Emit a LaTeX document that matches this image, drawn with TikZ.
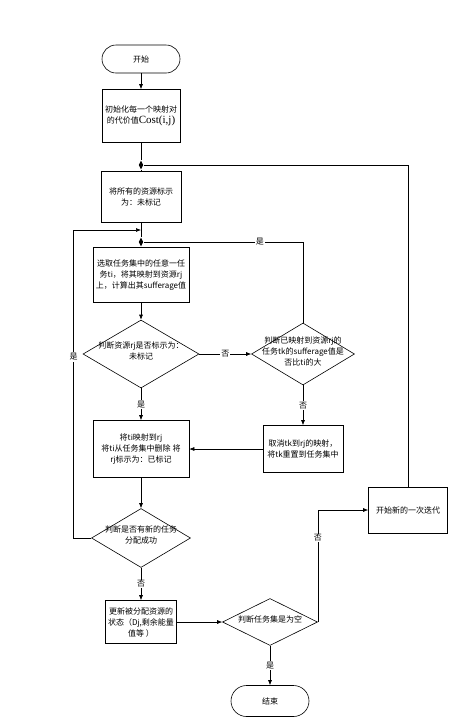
\documentclass[tikz,border=0pt]{standalone}
\usepackage{fontspec}
\setmainfont{Liberation Serif}
\newfontfamily\cjk{Noto Sans CJK SC}
\usetikzlibrary{shapes.geometric,arrows.meta}
\newcommand{\dtext}[1]{\smash{\makebox[0pt]{\begin{tabular}{@{}c@{}}#1\end{tabular}}}}

\begin{document}
\begin{tikzpicture}[x=1pt,y=-1pt,
    every node/.style={font=\cjk\fontsize{8}{11}\selectfont},
    term/.style={draw, rounded corners=14pt, minimum width=78pt, minimum height=28pt},
    proc/.style={draw, align=center, inner sep=2pt},
    decision/.style={draw, diamond, inner sep=0pt},
    junc/.style={diamond, fill, inner sep=0pt, minimum width=4.5pt, minimum height=9pt},
    lab/.style={fill=white, inner sep=1pt},
    arr/.style={-{Latex[length=5pt,width=4pt]}},
    line width=0.6pt]

    \useasboundingbox (0,0) rectangle (474,724);

    % left column
    \node[term] (start) at (141,59) {开始};
    \node[proc, minimum width=78pt, minimum height=53pt] (init) at (141,116)
        {初始化每一个映射对\\的代价值{\rmfamily\fontsize{11}{11}\selectfont Cost(i,j)}};
    \node[junc] (j1) at (141,165) {};
    \node[proc, minimum width=80pt, minimum height=51pt] (unmark) at (141,197)
        {将所有的资源标示\\为：未标记};
    \coordinate (inL) at (141,230);
    \node[junc] (j2) at (141,242) {};
    \node[proc, minimum width=96pt, minimum height=55pt] (pick) at (141,275)
        {选取任务集中的任意一任\\务ti，将其映射到资源rj\\上，计算出其sufferage值};
    \node[decision, minimum width=116pt, minimum height=68pt] (chkmark) at (141,354)
        {\dtext{判断资源rj是否标示为：\\未标记}};
    \node[proc, minimum width=96pt, minimum height=57pt] (assign) at (141,449)
        {将ti映射到rj\\将ti从任务集中删除 将\\rj标示为：已标记};
    \node[decision, minimum width=99pt, minimum height=59pt] (chknew) at (141,538)
        {\dtext{判断是否有新的任务\\分配成功}};
    \node[proc, minimum width=71pt, minimum height=43pt] (update) at (141,622)
        {更新被分配资源的\\状态（Dj,剩余能量\\值等 ）};

    % right side
    \node[decision, minimum width=103pt, minimum height=62pt] (chkbig) at (303,354)
        {\dtext{判断已映射到资源rj的\\任务tk的sufferage值是\\否比ti的大}};
    \node[proc, minimum width=80pt, minimum height=47pt] (cancel) at (303,449)
        {取消tk到rj的映射，\\将tk重置到任务集中};
    \node[decision, minimum width=95pt, minimum height=47pt] (chkempty) at (270,622)
        {\dtext{判断任务集是为空}};
    \node[term, minimum height=31pt, rounded corners=15.5pt] (finish) at (270,701) {结束};
    \node[proc, minimum width=79pt, minimum height=46pt] (iter) at (408,510)
        {开始新的一次迭代};

    % connectors
    \draw[arr] (start) -- (init);
    \draw (init) -- (j1) -- (unmark);
    \draw (unmark) -- (j2) -- (pick);
    \draw[arr] (pick) -- (chkmark);
    \draw[arr] (chkmark) -- node[lab] {否} (chkbig);
    \draw (chkbig.north) |- node[lab, pos=0.635] {是} (j2);
    \draw[arr] (chkbig) -- node[lab] {否} (cancel);
    \draw[arr] (chkmark) -- node[lab] {是} (assign);
    \draw[arr] (cancel) -- (assign);
    \draw[arr] (assign) -- (chknew);
    \draw[arr] (chknew.west) -- ++(-17.5,0) coordinate (lc) |- (inL);
    \node[lab] at (lc |- 0,357) {是};
    \draw[arr] (chknew) -- node[lab] {否} (update);
    \draw[arr] (update) -- (chkempty);
    \draw[arr] (chkempty) -- node[lab] {是} (finish);
    \draw[arr] (chkempty.east) |- node[lab, pos=0.375] {否} (iter.west);
    \draw (iter.north) |- (j1);
\end{tikzpicture}
\end{document}
